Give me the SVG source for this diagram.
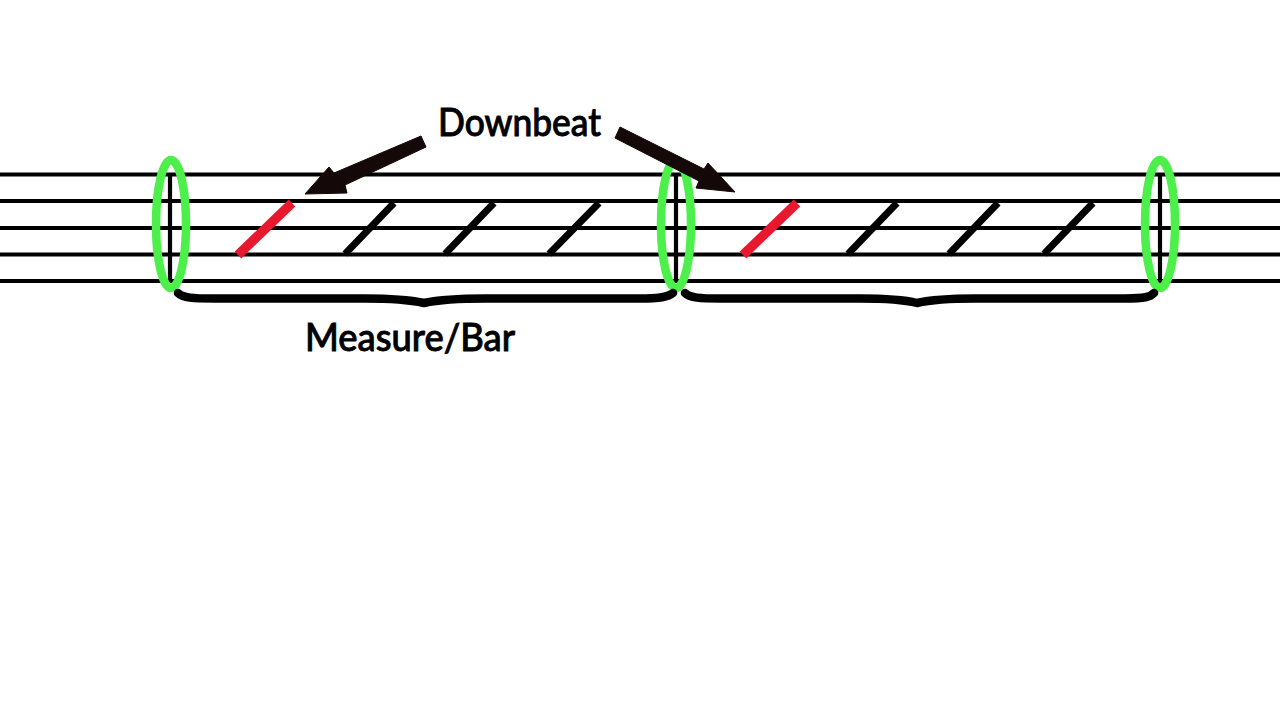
<svg xmlns="http://www.w3.org/2000/svg" width="1280" height="720" viewBox="0 0 1280 720">
<style>
.staff{stroke:#000;stroke-width:4.2;fill:none}
.bar{stroke:#000;stroke-width:4.2;fill:none}
.beat{stroke:#000;stroke-width:7;fill:none}
.down{stroke:#e8182f;stroke-width:9.500;fill:none}
.ring{stroke:#4df04a;stroke-width:8.500;fill:none}
.brace{stroke:#000;stroke-width:8.500;fill:none;stroke-linecap:round}
.arrow{fill:#140808;stroke:#140808;stroke-width:1}
text{font-family:"Lato","Liberation Sans",sans-serif;fill:#000;stroke:#000;stroke-width:.9;font-weight:500}
</style>
<rect width="1280" height="720" fill="#fff"/>
<g id="staff">
<line class="staff" x1="0" y1="174.500" x2="1280" y2="174.500"/>
<line class="staff" x1="0" y1="201" x2="1280" y2="201"/>
<line class="staff" x1="0" y1="228" x2="1280" y2="228"/>
<line class="staff" x1="0" y1="254.500" x2="1280" y2="254.500"/>
<line class="staff" x1="0" y1="281" x2="1280" y2="281"/>
<line class="bar" x1="170" y1="174" x2="170" y2="281"/>
<line class="bar" x1="676" y1="174" x2="676" y2="281"/>
<line class="bar" x1="1160" y1="174" x2="1160" y2="281"/>
</g>
<g id="beats">
<line class="down" x1="238" y1="255" x2="292" y2="203"/>
<line class="beat" x1="345" y1="254" x2="394" y2="203"/>
<line class="beat" x1="445" y1="254" x2="494" y2="203"/>
<line class="beat" x1="549" y1="254" x2="599" y2="203"/>
<line class="down" x1="743" y1="255" x2="797" y2="203"/>
<line class="beat" x1="848" y1="254" x2="897" y2="203"/>
<line class="beat" x1="949" y1="254" x2="998" y2="203"/>
<line class="beat" x1="1044" y1="254" x2="1093" y2="203"/>
</g>
<g id="rings">
<ellipse class="ring" cx="171" cy="224" rx="15" ry="64"/>
<ellipse class="ring" cx="676" cy="224" rx="15" ry="64"/>
<ellipse class="ring" cx="1160" cy="224" rx="15" ry="64"/>
</g>
<g id="braces">
<path class="brace" d="M178 293C183 298 192 298.500 215 298.500L365 298.500C395 298.500 410 300 424 303C438 300 455 298.500 485 298.500L640 298.500C660 298.500 668 297 673 293"/>
<path class="brace" d="M685 293C690 298 700 298.500 720 298.500L860 298.500C890 298.500 905 300 917 303C930 300 945 298.500 975 298.500L1125 298.500C1145 298.500 1150 297 1154 293"/>
</g>
<g id="connectors">
<polygon class="arrow" points="421,136 426,147 345,185 347,193 305,194 329,167 334,173"/>
<polygon class="arrow" points="620,127 704,169 708,163 735,192 696,188 699,181 615,138"/>
</g>
<g id="labels">
<text x="438" y="136" font-size="38" textLength="163" lengthAdjust="spacingAndGlyphs">Downbeat</text>
<text x="305" y="351" font-size="38" textLength="210" lengthAdjust="spacingAndGlyphs">Measure/Bar</text>
</g>
</svg>
